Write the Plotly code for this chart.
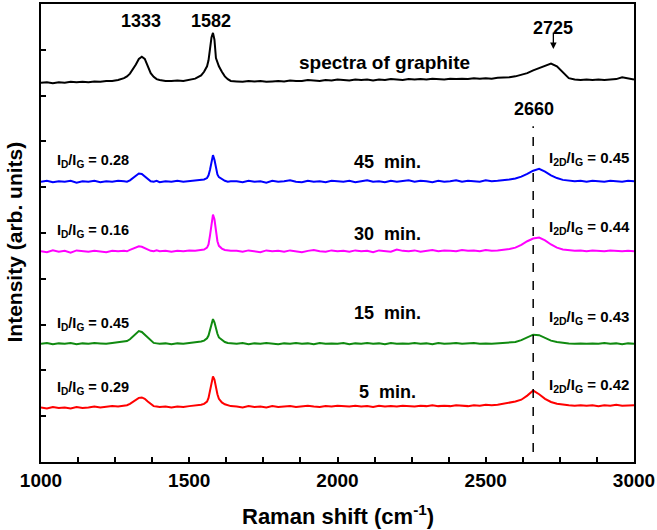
import plotly.graph_objects as go

# Raman shift grid (cm^-1)
raman_shift = [1000, 1020, 1040, 1060, 1080, 1100, 1120, 1140, 1160, 1180, 1200, 1220, 1240, 1260,
               1280, 1290, 1300, 1310, 1320, 1330, 1340, 1350, 1360, 1370, 1380, 1390, 1400,
               1420, 1440, 1460, 1480, 1500, 1520, 1540,
               1550, 1560, 1565, 1570, 1575, 1580, 1585, 1590, 1595, 1600, 1610, 1620, 1630, 1640,
               1660, 1680, 1700, 1720, 1740, 1760, 1780, 1800, 1820, 1840,
               1860, 1880, 1900, 1920, 1940, 1960, 1980, 2000, 2020, 2040,
               2060, 2080, 2100, 2120, 2140, 2160, 2180, 2200, 2220, 2240,
               2260, 2280, 2300, 2320, 2340, 2360, 2380, 2400, 2420, 2440,
               2460, 2480, 2500, 2520, 2540,
               2560, 2580, 2600, 2620, 2640, 2660, 2680, 2700, 2720, 2740, 2760, 2780, 2800, 2820,
               2840, 2860, 2880, 2900, 2920, 2940, 2960, 2980, 3000]

graphite = [8.28, 8.29, 8.27, 8.29, 8.28, 8.30, 8.29, 8.30, 8.29, 8.31, 8.30, 8.32, 8.32, 8.34,
            8.38, 8.42, 8.48, 8.57, 8.68, 8.80, 8.85, 8.80, 8.64, 8.49, 8.41, 8.36, 8.34,
            8.32, 8.32, 8.33, 8.32, 8.34, 8.37, 8.44,
            8.52, 8.64, 8.77, 9.02, 9.27, 9.37, 9.22, 8.82, 8.72, 8.64, 8.52, 8.42, 8.36, 8.32,
            8.31, 8.30, 8.32, 8.31, 8.32, 8.30, 8.31, 8.32, 8.31, 8.33,
            8.32, 8.32, 8.34, 8.33, 8.32, 8.34, 8.33, 8.35, 8.34, 8.33,
            8.35, 8.34, 8.35, 8.33, 8.35, 8.34, 8.36, 8.35, 8.34, 8.36,
            8.35, 8.36, 8.35, 8.37, 8.36, 8.35, 8.37, 8.36, 8.37, 8.36,
            8.38, 8.37, 8.38, 8.37, 8.39,
            8.39, 8.40, 8.42, 8.45, 8.49, 8.55, 8.60, 8.65, 8.70, 8.64, 8.50, 8.38, 8.35, 8.34,
            8.35, 8.34, 8.35, 8.34, 8.35, 8.36, 8.40, 8.37, 8.35]

min45 = [6.12, 6.14, 6.11, 6.13, 6.12, 6.14, 6.10, 6.13, 6.12, 6.14, 6.11, 6.13, 6.12, 6.14,
         6.13, 6.12, 6.15, 6.20, 6.26, 6.30, 6.29, 6.24, 6.17, 6.13, 6.12, 6.14, 6.11,
         6.13, 6.12, 6.14, 6.12, 6.13, 6.14, 6.15,
         6.17, 6.20, 6.26, 6.38, 6.55, 6.70, 6.60, 6.40, 6.28, 6.22, 6.17, 6.14, 6.12, 6.13,
         6.13, 6.11, 6.14, 6.12, 6.13, 6.10, 6.14, 6.12, 6.13, 6.15,
         6.12, 6.11, 6.14, 6.12, 6.13, 6.11, 6.14, 6.13, 6.12, 6.14,
         6.11, 6.13, 6.15, 6.12, 6.13, 6.11, 6.14, 6.12, 6.13, 6.15,
         6.12, 6.14, 6.13, 6.11, 6.14, 6.12, 6.13, 6.15, 6.12, 6.14,
         6.13, 6.12, 6.15, 6.13, 6.14,
         6.15, 6.17, 6.19, 6.23, 6.29, 6.36, 6.40, 6.34, 6.26, 6.20, 6.16, 6.14, 6.13, 6.14,
         6.12, 6.14, 6.13, 6.12, 6.14, 6.13, 6.12, 6.14, 6.13]

min30 = [4.60, 4.58, 4.62, 4.59, 4.61, 4.57, 4.62, 4.60, 4.59, 4.61, 4.60, 4.58, 4.61, 4.60,
         4.61, 4.60, 4.63, 4.66, 4.69, 4.71, 4.70, 4.67, 4.63, 4.61, 4.60, 4.62, 4.60,
         4.61, 4.59, 4.61, 4.60, 4.62, 4.61, 4.63,
         4.64, 4.68, 4.75, 4.95, 5.25, 5.40, 5.30, 5.02, 4.82, 4.72, 4.66, 4.63, 4.62, 4.61,
         4.61, 4.59, 4.62, 4.60, 4.58, 4.62, 4.60, 4.61, 4.59, 4.62,
         4.60, 4.58, 4.61, 4.63, 4.60, 4.59, 4.62, 4.60, 4.61, 4.59,
         4.62, 4.60, 4.61, 4.58, 4.62, 4.60, 4.59, 4.64, 4.61, 4.60,
         4.62, 4.59, 4.61, 4.63, 4.60, 4.62, 4.61, 4.60, 4.63, 4.61,
         4.62, 4.60, 4.63, 4.61, 4.62,
         4.63, 4.65, 4.68, 4.74, 4.82, 4.88, 4.90, 4.84, 4.75, 4.68, 4.64, 4.62, 4.61, 4.62,
         4.60, 4.62, 4.61, 4.60, 4.62, 4.61, 4.60, 4.61, 4.60]

min15 = [2.58, 2.60, 2.57, 2.59, 2.58, 2.60, 2.57, 2.59, 2.58, 2.60, 2.59, 2.58, 2.60, 2.61,
         2.62, 2.64, 2.68, 2.74, 2.81, 2.86, 2.84, 2.78, 2.70, 2.64, 2.60, 2.59, 2.58,
         2.59, 2.57, 2.59, 2.58, 2.60, 2.61, 2.63,
         2.65, 2.70, 2.76, 2.88, 3.02, 3.12, 3.05, 2.90, 2.80, 2.72, 2.66, 2.62, 2.60, 2.59,
         2.58, 2.60, 2.57, 2.59, 2.58, 2.60, 2.58, 2.57, 2.59, 2.58,
         2.60, 2.58, 2.59, 2.57, 2.60, 2.58, 2.59, 2.58, 2.60, 2.57,
         2.59, 2.58, 2.60, 2.58, 2.59, 2.57, 2.60, 2.58, 2.59, 2.58,
         2.60, 2.58, 2.59, 2.57, 2.60, 2.58, 2.59, 2.60, 2.58, 2.59,
         2.60, 2.58, 2.59, 2.58, 2.59,
         2.59, 2.60, 2.62, 2.66, 2.72, 2.78, 2.77, 2.71, 2.65, 2.62, 2.60, 2.59, 2.58, 2.59,
         2.58, 2.59, 2.58, 2.60, 2.58, 2.59, 2.57, 2.59, 2.58]

min5 = [1.19, 1.17, 1.20, 1.18, 1.19, 1.17, 1.20, 1.18, 1.19, 1.21, 1.19, 1.20, 1.22, 1.21,
        1.22, 1.24, 1.27, 1.32, 1.37, 1.40, 1.41, 1.38, 1.32, 1.26, 1.22, 1.21, 1.20,
        1.21, 1.19, 1.21, 1.20, 1.22, 1.23, 1.25,
        1.27, 1.32, 1.40, 1.55, 1.75, 1.87, 1.80, 1.62, 1.48, 1.38, 1.30, 1.26, 1.24, 1.22,
        1.21, 1.19, 1.22, 1.20, 1.21, 1.19, 1.22, 1.20, 1.21, 1.22,
        1.20, 1.21, 1.23, 1.21, 1.20, 1.22, 1.21, 1.23, 1.22, 1.21,
        1.23, 1.21, 1.22, 1.20, 1.23, 1.21, 1.22, 1.21, 1.23, 1.22,
        1.21, 1.23, 1.22, 1.24, 1.22, 1.23, 1.22, 1.24, 1.23, 1.22,
        1.24, 1.23, 1.25, 1.24, 1.25,
        1.27, 1.29, 1.32, 1.36, 1.45, 1.56, 1.48, 1.38, 1.31, 1.27, 1.25, 1.24, 1.23, 1.24,
        1.23, 1.24, 1.22, 1.24, 1.23, 1.25, 1.23, 1.24, 1.24]

series_names = ["graphite", "45 min.", "30 min.", "15 min.", "5 min."]
series_values = [graphite, min45, min30, min15, min5]
series_colors = ["#000000", "#0000ff", "#ff00ff", "#108a10", "#ff0000"]

# peak labels
peak_labels = ["1333", "1582", "2725"]
peak_label_x = [1337, 1573, 2727]
peak_label_y = [9.63, 9.63, 9.48]

time_labels = ["45\u00a0 min.", "30\u00a0 min.", "15\u00a0 min.", "5\u00a0 min."]
time_label_y = [6.54, 4.98, 3.26, 1.52]

id_ig = ["0.28", "0.16", "0.45", "0.29"]
id_ig_y = [6.57, 5.04, 3.02, 1.61]
i2d_ig = ["0.45", "0.44", "0.43", "0.42"]
i2d_ig_y = [6.63, 5.11, 3.15, 1.67]

FONT = "Liberation Sans, Arial, sans-serif"

fig = go.Figure()
for name, vals, col in zip(series_names, series_values, series_colors):
    fig.add_trace(go.Scatter(x=raman_shift, y=vals, mode="lines", name=name,
                             line=dict(color=col, width=2), showlegend=False))

# dashed line at 2660
fig.add_shape(type="line", x0=2660, x1=2660, y0=0.22, y1=7.33, xref="x", yref="y",
              line=dict(color="black", width=1.5, dash="dash"))

ann = []
for t, x, y in zip(peak_labels, peak_label_x, peak_label_y):
    ann.append(dict(x=x, y=y, text=t, showarrow=False, font=dict(size=18, weight="bold")))
ann.append(dict(x=2728, y=9.02, ax=0, ay=-18, text="", showarrow=True, arrowhead=2,
                arrowsize=1, arrowwidth=1.3, arrowcolor="black"))
ann.append(dict(x=2160, y=8.72, text="spectra of graphite", showarrow=False,
                font=dict(size=19, weight="bold")))
ann.append(dict(x=2663, y=7.70, text="2660", showarrow=False, font=dict(size=18, weight="bold")))
for t, y in zip(time_labels, time_label_y):
    ann.append(dict(x=2167, y=y, text=t, showarrow=False, font=dict(size=18, weight="bold")))
for v, y in zip(id_ig, id_ig_y):
    ann.append(dict(x=1047, y=y, xanchor="left", text="I<sub>D</sub>/I<sub>G</sub> = " + v,
                    showarrow=False, font=dict(size=14.5, weight="bold")))
for v, y in zip(i2d_ig, i2d_ig_y):
    ann.append(dict(x=2708, y=y, xanchor="left", text="I<sub>2D</sub>/I<sub>G</sub> = " + v,
                    showarrow=False, font=dict(size=15, weight="bold")))
# axis titles
ann.append(dict(xref="paper", yref="paper", x=0.5, y=-0.115, yanchor="middle",
                text="Raman shift (cm<sup>-1</sup>)", showarrow=False,
                font=dict(size=22, weight="bold")))
ann.append(dict(xref="paper", yref="paper", x=-0.045, y=0.48, xanchor="center",
                text="Intensity (arb. units)", textangle=-90, showarrow=False,
                font=dict(size=21, weight="bold")))
fig.update_layout(annotations=ann)

fig.update_layout(
    width=657, height=530,
    margin=dict(l=41, r=23, t=2, b=68),
    paper_bgcolor="white", plot_bgcolor="white",
    font=dict(family=FONT, color="black"),
    xaxis=dict(range=[1000, 3000], tickvals=[1000, 1500, 2000, 2500, 3000],
               ticks="inside", ticklen=5, tickwidth=1.5, tickcolor="black",
               minor=dict(dtick=125, tick0=1000, ticks="inside", ticklen=5, tickwidth=1.5, tickcolor="black"),
               showline=True, linecolor="black", linewidth=2, mirror=True,
               showgrid=False, zeroline=False,
               tickfont=dict(size=19, weight="bold")),
    yaxis=dict(range=[0, 10], dtick=1, tick0=0, ticks="inside", ticklen=5, tickwidth=1.5,
               tickcolor="black", showticklabels=False,
               showline=True, linecolor="black", linewidth=2, mirror=True,
               showgrid=False, zeroline=False),
)

fig.write_html("out.html")
